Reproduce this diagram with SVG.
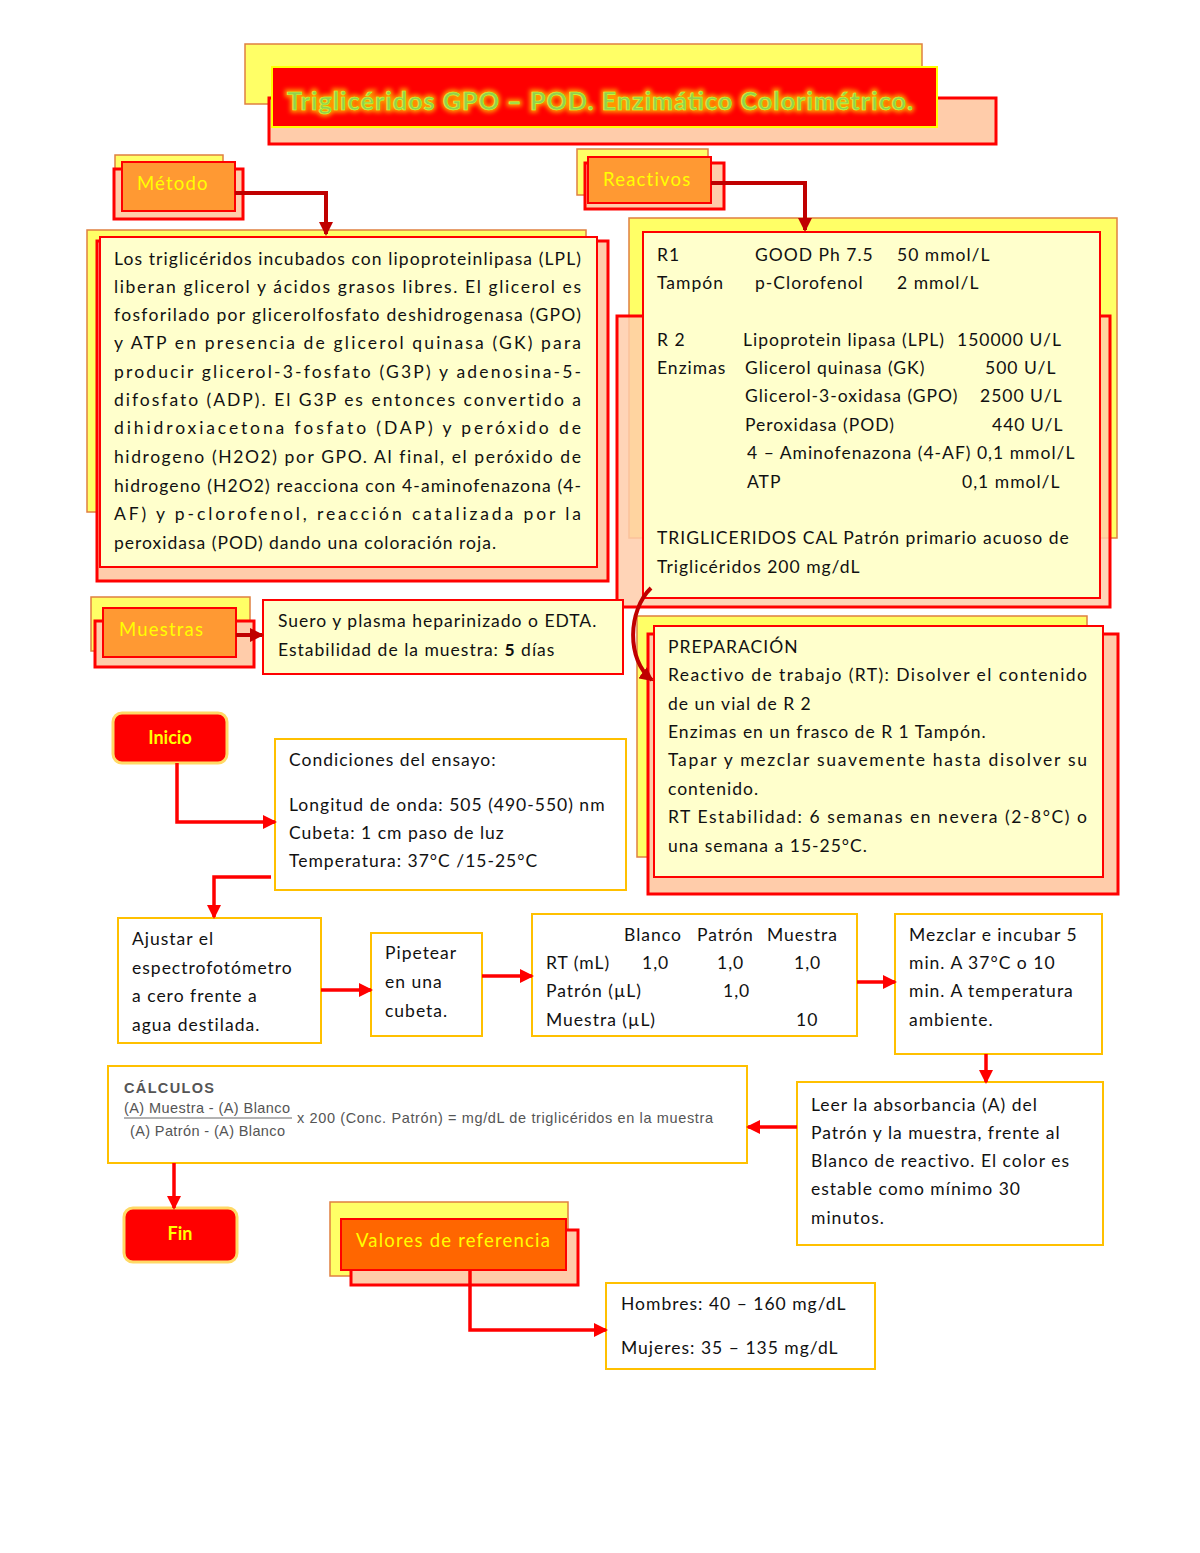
<svg xmlns="http://www.w3.org/2000/svg" width="1200" height="1553" viewBox="0 0 1200 1553">
<style>
.bk{fill:#FFFF66;stroke:#E08040;stroke-width:1.5}
.pe{fill:#FFCCAA;stroke:#FF0000;stroke-width:3}
.lb{fill:#FF9933;stroke:#FF0000;stroke-width:2}
.ly{fill:#FFFFCC;stroke:#FF0000;stroke-width:2}
.wb{fill:#FFFFFF;stroke:#FFC000;stroke-width:2}
.rr{fill:#FF0000;stroke:#FFD966;stroke-width:3}
.t{font-family:Lato,"Open Sans","Liberation Sans",sans-serif;font-size:17.5px;letter-spacing:1px;fill:#111}
.lt{font-family:Lato,"Open Sans","Liberation Sans",sans-serif;font-size:18.5px;letter-spacing:1.2px;fill:#FFFF00}
.bt{font-family:Lato,"Open Sans","Liberation Sans",sans-serif;font-size:18px;font-weight:bold;fill:#FFFF00}
.ar{font-family:"Liberation Sans",Arial,sans-serif;font-size:14.5px;fill:#555}
.c1{fill:none;stroke:#C00000;stroke-width:4}
.c2{fill:none;stroke:#FF0000;stroke-width:3.5}
</style>
<defs>
<marker id="m1" markerUnits="userSpaceOnUse" markerWidth="14" markerHeight="14" refX="12" refY="7" orient="auto"><path d="M0,0 L14,7 L0,14 z" fill="#C00000"/></marker>
<marker id="m2" markerUnits="userSpaceOnUse" markerWidth="14" markerHeight="14" refX="12" refY="7" orient="auto"><path d="M0,0 L14,7 L0,14 z" fill="#FF0000"/></marker>
<filter id="glow" x="-5%" y="-30%" width="110%" height="160%"><feGaussianBlur stdDeviation="2"/></filter>
</defs>

<g id="title">
<rect class="bk" x="245" y="44" width="677" height="60"/>
<rect class="pe" x="269" y="98" width="727" height="46"/>
<rect x="272" y="67" width="665" height="60" fill="#FF0000" stroke="#FFFF00" stroke-width="2"/>
<text x="287" y="110" font-family="Lato,'Liberation Sans',sans-serif" font-size="25" font-weight="bold" fill="none" stroke="#FF9900" stroke-width="5" filter="url(#glow)" textLength="626">Triglicéridos GPO – POD. Enzimático Colorimétrico.</text>
<text x="287" y="110" font-family="Lato,'Liberation Sans',sans-serif" font-size="25" font-weight="bold" fill="#92D050" stroke="#CCFF33" stroke-width="0.6" textLength="626">Triglicéridos GPO – POD. Enzimático Colorimétrico.</text>
</g>

<g id="metodo">
<rect class="bk" x="115" y="155" width="108" height="63"/>
<rect class="pe" x="114" y="169" width="129" height="50"/>
<rect class="lb" x="122" y="162" width="113" height="49"/>
<text class="lt" x="137" y="190">Método</text>
</g>

<g id="metodo-texto">
<rect class="bk" x="87" y="230" width="499" height="282"/>
<rect class="pe" x="97" y="241" width="511" height="340"/>
<rect class="ly" x="100" y="237" width="497" height="330"/>
<g class="t">
<text x="114" y="265" textLength="468" lengthAdjust="spacing">Los triglicéridos incubados con lipoproteinlipasa (LPL)</text>
<text x="114" y="293" textLength="468" lengthAdjust="spacing">liberan glicerol y ácidos grasos libres. El glicerol es</text>
<text x="114" y="321" textLength="468" lengthAdjust="spacing">fosforilado por glicerolfosfato deshidrogenasa (GPO)</text>
<text x="114" y="349" textLength="468" lengthAdjust="spacing">y ATP en presencia de glicerol quinasa (GK) para</text>
<text x="114" y="378" textLength="468" lengthAdjust="spacing">producir glicerol-3-fosfato (G3P) y adenosina-5-</text>
<text x="114" y="406" textLength="468" lengthAdjust="spacing">difosfato (ADP). El G3P es entonces convertido a</text>
<text x="114" y="434" textLength="468" lengthAdjust="spacing">dihidroxiacetona fosfato (DAP) y peróxido de</text>
<text x="114" y="463" textLength="468" lengthAdjust="spacing">hidrogeno (H2O2) por GPO. Al final, el peróxido de</text>
<text x="114" y="492" textLength="468" lengthAdjust="spacing">hidrogeno (H2O2) reacciona con 4-aminofenazona (4-</text>
<text x="114" y="520" textLength="468" lengthAdjust="spacing">AF) y p-clorofenol, reacción catalizada por la</text>
<text x="114" y="549">peroxidasa (POD) dando una coloración roja.</text>
</g>
</g>

<g id="reactivos">
<rect class="bk" x="577" y="149" width="131" height="46"/>
<rect class="pe" x="585" y="163" width="139" height="46"/>
<rect class="lb" x="588" y="157" width="123" height="46"/>
<text class="lt" x="603" y="186">Reactivos</text>
</g>

<g id="reactivos-texto">
<rect class="bk" x="629" y="218" width="488" height="320"/>
<rect class="pe" x="617" y="316" width="493" height="291" fill-opacity="0.85"/>
<rect class="ly" x="643" y="232" width="457" height="366"/>
<g class="t">
<text x="657" y="261">R1</text><text x="755" y="261">GOOD Ph 7.5</text><text x="897" y="261">50 mmol/L</text>
<text x="657" y="289">Tampón</text><text x="755" y="289">p-Clorofenol</text><text x="897" y="289">2 mmol/L</text>
<text x="657" y="346">R 2</text><text x="743" y="346">Lipoprotein lipasa (LPL)</text><text x="957" y="346">150000 U/L</text>
<text x="657" y="374">Enzimas</text><text x="745" y="374">Glicerol quinasa (GK)</text><text x="985" y="374">500 U/L</text>
<text x="745" y="402">Glicerol-3-oxidasa (GPO)</text><text x="980" y="402">2500 U/L</text>
<text x="745" y="431">Peroxidasa (POD)</text><text x="992" y="431">440 U/L</text>
<text x="747" y="459">4 – Aminofenazona (4-AF) 0,1 mmol/L</text>
<text x="747" y="488">ATP</text><text x="962" y="488">0,1 mmol/L</text>
<text x="657" y="544">TRIGLICERIDOS CAL Patrón primario acuoso de</text>
<text x="657" y="573">Triglicéridos 200 mg/dL</text>
</g>
</g>

<g id="muestras">
<rect class="bk" x="91" y="597" width="159" height="54"/>
<rect class="pe" x="95" y="621" width="159" height="46"/>
<rect class="lb" x="103" y="608" width="133" height="49"/>
<text class="lt" x="119" y="636">Muestras</text>
</g>

<g id="muestras-texto">
<rect class="ly" x="263" y="600" width="360" height="74"/>
<text class="t" x="278" y="627">Suero y plasma heparinizado o EDTA.</text>
<text class="t" x="278" y="656">Estabilidad de la muestra: <tspan font-weight="bold">5</tspan> días</text>
</g>

<g id="preparacion">
<rect class="bk" x="637" y="616" width="450" height="241"/>
<rect class="pe" x="648" y="634" width="470" height="260"/>
<rect class="ly" x="654" y="626" width="449" height="251"/>
<g class="t">
<text x="668" y="653">PREPARACIÓN</text>
<text x="668" y="681" textLength="420" lengthAdjust="spacing">Reactivo de trabajo (RT): Disolver el contenido</text>
<text x="668" y="710">de un vial de R 2</text>
<text x="668" y="738">Enzimas en un frasco de R 1 Tampón.</text>
<text x="668" y="766" textLength="420" lengthAdjust="spacing">Tapar y mezclar suavemente hasta disolver su</text>
<text x="668" y="795">contenido.</text>
<text x="668" y="823" textLength="420" lengthAdjust="spacing">RT Estabilidad: 6 semanas en nevera (2-8°C) o</text>
<text x="668" y="852">una semana a 15-25°C.</text>
</g>
</g>

<g id="inicio">
<rect class="rr" x="113" y="713" width="114" height="50" rx="9"/>
<text class="bt" x="170" y="744" text-anchor="middle">Inicio</text>
</g>

<g id="condiciones">
<rect class="wb" x="275" y="739" width="351" height="151"/>
<g class="t">
<text x="289" y="766">Condiciones del ensayo:</text>
<text x="289" y="811">Longitud de onda: 505 (490-550) nm</text>
<text x="289" y="839">Cubeta: 1 cm paso de luz</text>
<text x="289" y="867">Temperatura:  37°C /15-25°C</text>
</g>
</g>

<g id="ajustar">
<rect class="wb" x="118" y="918" width="203" height="125"/>
<g class="t">
<text x="132" y="945">Ajustar el</text>
<text x="132" y="974">espectrofotómetro</text>
<text x="132" y="1002">a cero frente a</text>
<text x="132" y="1031">agua destilada.</text>
</g>
</g>

<g id="pipetear">
<rect class="wb" x="371" y="933" width="111" height="103"/>
<g class="t">
<text x="385" y="959">Pipetear</text>
<text x="385" y="988">en una</text>
<text x="385" y="1017">cubeta.</text>
</g>
</g>

<g id="tabla">
<rect class="wb" x="532" y="914" width="325" height="122"/>
<g class="t">
<text x="624" y="941">Blanco</text><text x="697" y="941">Patrón</text><text x="767" y="941">Muestra</text>
<text x="546" y="969">RT (mL)</text><text x="642" y="969">1,0</text><text x="717" y="969">1,0</text><text x="794" y="969">1,0</text>
<text x="546" y="997">Patrón (µL)</text><text x="723" y="997">1,0</text>
<text x="546" y="1026">Muestra (µL)</text><text x="796" y="1026">10</text>
</g>
</g>

<g id="mezclar">
<rect class="wb" x="895" y="914" width="207" height="140"/>
<g class="t">
<text x="909" y="941">Mezclar e incubar 5</text>
<text x="909" y="969">min. A 37°C o 10</text>
<text x="909" y="997">min. A temperatura</text>
<text x="909" y="1026">ambiente.</text>
</g>
</g>

<g id="leer">
<rect class="wb" x="797" y="1082" width="306" height="163"/>
<g class="t">
<text x="811" y="1111">Leer la absorbancia (A) del</text>
<text x="811" y="1139">Patrón y la muestra, frente al</text>
<text x="811" y="1167">Blanco de reactivo. El color es</text>
<text x="811" y="1195">estable como mínimo 30</text>
<text x="811" y="1224">minutos.</text>
</g>
</g>

<g id="calculos">
<rect class="wb" x="108" y="1066" width="639" height="97"/>
<text class="ar" x="124" y="1093" font-weight="bold" font-size="16" fill="#404040" textLength="90">CÁLCULOS</text>
<text class="ar" x="124" y="1113" textLength="166">(A) Muestra - (A) Blanco</text>
<line x1="124" y1="1118" x2="292" y2="1118" stroke="#666" stroke-width="1"/>
<text class="ar" x="130" y="1136" textLength="155">(A) Patrón - (A) Blanco</text>
<text class="ar" x="297" y="1123" textLength="416">x 200 (Conc. Patrón) = mg/dL de triglicéridos en la muestra</text>
</g>

<g id="fin">
<rect class="rr" x="124" y="1208" width="113" height="54" rx="9"/>
<text class="bt" x="180" y="1240" text-anchor="middle">Fin</text>
</g>

<g id="valores">
<rect class="bk" x="330" y="1202" width="238" height="74"/>
<rect class="pe" x="351" y="1230" width="227" height="55"/>
<rect x="341" y="1219" width="225" height="51" fill="#FF6600" stroke="#FF0000" stroke-width="2"/>
<text class="lt" x="356" y="1247">Valores de referencia</text>
</g>

<g id="valores-texto">
<rect class="wb" x="606" y="1283" width="269" height="86"/>
<text class="t" x="621" y="1310">Hombres: 40 – 160 mg/dL</text>
<text class="t" x="621" y="1354">Mujeres: 35 – 135 mg/dL</text>
</g>

<g id="connectors">
<path class="c1" d="M235,193 H326 V234" marker-end="url(#m1)"/>
<path class="c1" d="M711,183 H805 V230" marker-end="url(#m1)"/>
<path class="c1" d="M236,635 H262" marker-end="url(#m1)"/>
<path class="c1" d="M651,588 C628,610 626,660 652,680" stroke-width="3" marker-end="url(#m1)"/>
<path class="c2" d="M177,763 V822 H275" marker-end="url(#m2)"/>
<path class="c2" d="M271,877 H214 V917" marker-end="url(#m2)"/>
<path class="c2" d="M321,990 H371" marker-end="url(#m2)"/>
<path class="c2" d="M482,976 H532" marker-end="url(#m2)"/>
<path class="c2" d="M857,982 H895" marker-end="url(#m2)"/>
<path class="c2" d="M986,1054 V1082" marker-end="url(#m2)"/>
<path class="c2" d="M797,1127 H748" marker-end="url(#m2)"/>
<path class="c2" d="M174,1163 V1208" marker-end="url(#m2)"/>
<path class="c2" d="M470,1270 V1330 H606" marker-end="url(#m2)"/>
</g>
</svg>
